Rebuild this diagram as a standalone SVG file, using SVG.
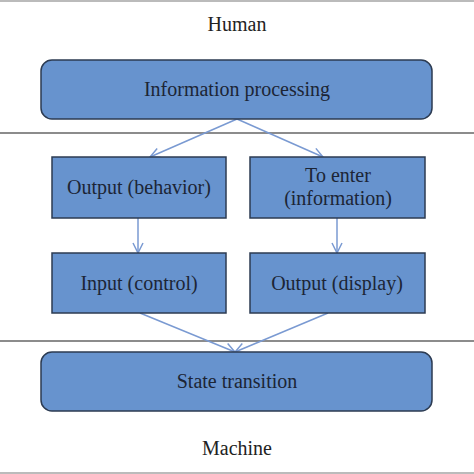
<svg xmlns="http://www.w3.org/2000/svg" width="474" height="474" viewBox="0 0 474 474">
<defs>
<style>
.box{fill:#6793CE;stroke:#2C3B52;stroke-width:1.5}
.t{font-family:"Liberation Serif","Times New Roman",serif;font-size:20px;fill:#1C2535;text-anchor:middle}
.lbl{font-family:"Liberation Serif","Times New Roman",serif;font-size:20px;fill:#222;text-anchor:middle}
.c{stroke:#7A9AD2;stroke-width:1.5;fill:none}
.sep{stroke:#666;stroke-width:1.5}
</style>
<marker id="ah" viewBox="0 0 12 12" refX="11" refY="6" markerWidth="12" markerHeight="12" markerUnits="userSpaceOnUse" orient="auto">
<path d="M1,1 L11,6 L1,11" fill="none" stroke="#7A9AD2" stroke-width="1.5"/>
</marker>
</defs>
<rect x="0" y="0" width="474" height="474" fill="#fff"/>
<line x1="0" y1="1" x2="474" y2="1" stroke="#bbb" stroke-width="2"/>
<line x1="0" y1="473" x2="474" y2="473" stroke="#bbb" stroke-width="2"/>
<line class="sep" x1="0" y1="133" x2="474" y2="133"/>
<line class="sep" x1="0" y1="341" x2="474" y2="341"/>
<text class="lbl" x="237" y="31">Human</text>
<text class="lbl" x="237" y="455">Machine</text>
<g id="connectors">
<line class="c" x1="237" y1="119" x2="150" y2="157" marker-end="url(#ah)"/>
<line class="c" x1="237" y1="119" x2="323" y2="157" marker-end="url(#ah)"/>
<line class="c" x1="138" y1="218" x2="138" y2="253" marker-end="url(#ah)"/>
<line class="c" x1="337" y1="218" x2="337" y2="253" marker-end="url(#ah)"/>
<line class="c" x1="140" y1="313" x2="235" y2="352" marker-end="url(#ah)"/>
<line class="c" x1="328" y1="313" x2="235" y2="352" marker-end="url(#ah)"/>
</g>
<g id="info">
<rect class="box" x="41" y="60" width="391" height="59" rx="11"/>
<text class="t" x="237" y="96">Information processing</text>
</g>
<g id="outbeh">
<rect class="box" x="52" y="157" width="174" height="61"/>
<text class="t" x="139" y="194">Output (behavior)</text>
</g>
<g id="enter">
<rect class="box" x="250" y="157" width="175" height="61"/>
<text class="t" x="338" y="182">To enter</text>
<text class="t" x="338" y="205">(information)</text>
</g>
<g id="input">
<rect class="box" x="52" y="253" width="174" height="60"/>
<text class="t" x="139" y="290">Input (control)</text>
</g>
<g id="outdisp">
<rect class="box" x="250" y="253" width="175" height="60"/>
<text class="t" x="337" y="290">Output (display)</text>
</g>
<g id="state">
<rect class="box" x="41" y="352" width="391" height="59" rx="11"/>
<text class="t" x="237" y="388">State transition</text>
</g>
</svg>
